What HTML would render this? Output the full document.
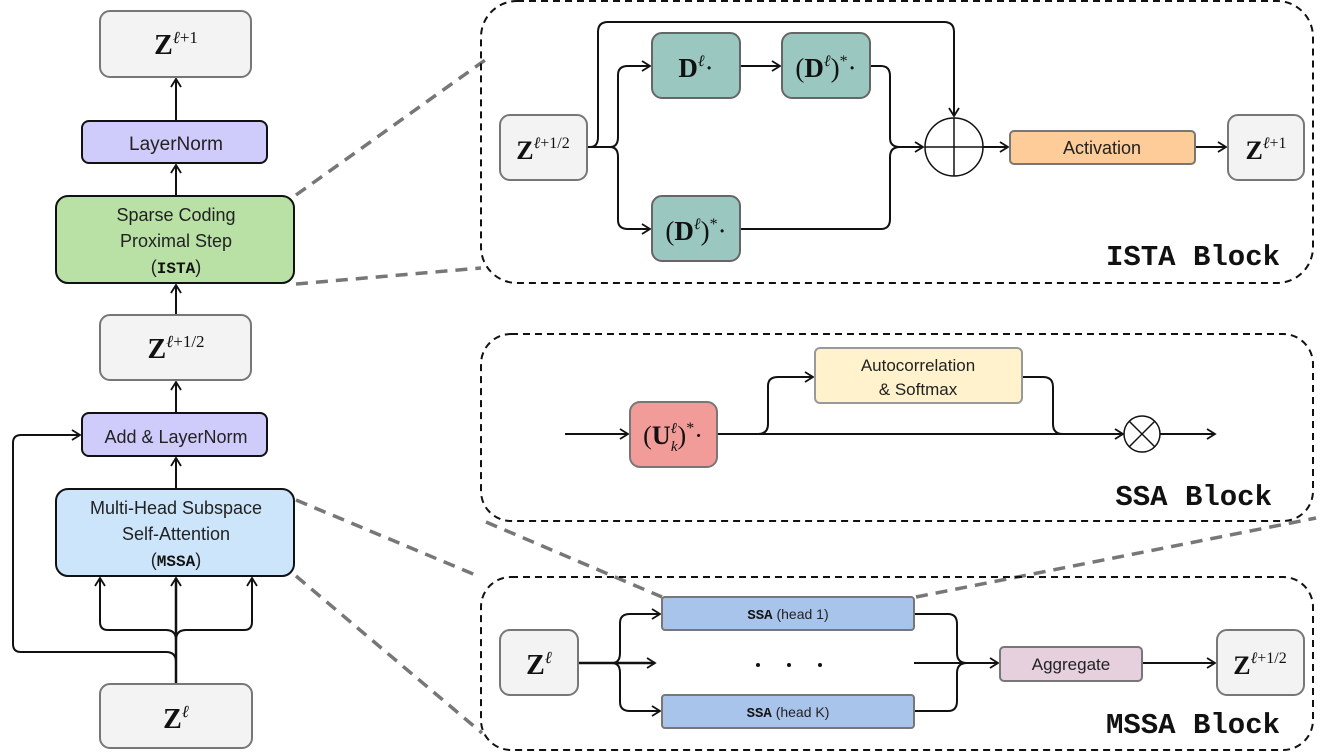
<!DOCTYPE html>
<html><head><meta charset="utf-8"><style>
html,body{margin:0;padding:0;background:#fff;}
svg{display:block;}
.s{font-family:"Liberation Sans",sans-serif;fill:#222;}
.m{font-family:"Liberation Serif",serif;fill:#111;}
.mono{font-family:"Liberation Mono",monospace;font-weight:bold;fill:#111;}
</style></head><body>
<svg width="1328" height="755" viewBox="0 0 1328 755" xmlns="http://www.w3.org/2000/svg">
<defs>
<marker id="a" markerWidth="12" markerHeight="12" refX="10" refY="6" orient="auto" markerUnits="userSpaceOnUse">
<path d="M2,1 L10,6 L2,11" fill="none" stroke="#111" stroke-width="1.8"/></marker>
</defs>
<g fill="none" stroke="#111" stroke-width="2">
<line x1="176" y1="121" x2="176" y2="79" marker-end="url(#a)"/>
<line x1="176" y1="196" x2="176" y2="165" marker-end="url(#a)"/>
<line x1="176" y1="315" x2="176" y2="285" marker-end="url(#a)"/>
<line x1="176" y1="413" x2="176" y2="382" marker-end="url(#a)"/>
<line x1="176" y1="489" x2="176" y2="458" marker-end="url(#a)"/>
<path d="M176,684 L176,578" stroke-width="2.5" marker-end="url(#a)"/>
<path d="M176,640 Q176,630 166,630 L108,630 Q100,630 100,622 L100,578" marker-end="url(#a)"/>
<path d="M176,640 Q176,630 186,630 L244,630 Q252,630 252,622 L252,578" marker-end="url(#a)"/>
<path d="M176,662 Q176,652 166,652 L21,652 Q13,652 13,644 L13,443 Q13,435 21,435 L80,435" marker-end="url(#a)"/>
<path d="M587,147 L590,147 Q598,147 598,137 L598,32 Q598,22 608,22 L944,22 Q954,22 954,32 L954,116" marker-end="url(#a)"/>
<path d="M587,147 L610,147 Q618,147 618,137 L618,75 Q618,66 628,66 L650,66" marker-end="url(#a)"/>
<path d="M610,147 Q618,147 618,157 L618,220 Q618,229 628,229 L650,229" marker-end="url(#a)"/>
<line x1="740" y1="66" x2="780" y2="66" marker-end="url(#a)"/>
<path d="M870,66 L881,66 Q890,66 890,76 L890,138 Q890,147 900,147 L923,147" marker-end="url(#a)"/>
<path d="M740,229 L881,229 Q890,229 890,219 L890,157 Q890,147 900,147"/>
<circle cx="954" cy="147" r="29" stroke-width="1.5"/>
<line x1="925" y1="147" x2="983" y2="147" stroke-width="1.5"/>
<line x1="954" y1="118" x2="954" y2="176" stroke-width="1.5"/>
<line x1="983" y1="147" x2="1008" y2="147" marker-end="url(#a)"/>
<line x1="1195" y1="147" x2="1226" y2="147" marker-end="url(#a)"/>
<line x1="565" y1="434" x2="628" y2="434" marker-end="url(#a)"/>
<path d="M717,434 L1123,434" marker-end="url(#a)"/>
<path d="M758,434 Q768,434 768,424 L768,386 Q768,377 778,377 L813,377" marker-end="url(#a)"/>
<path d="M1022,377 L1043,377 Q1053,377 1053,387 L1053,424 Q1053,434 1063,434"/>
<circle cx="1142" cy="434" r="18" stroke-width="1.5"/>
<line x1="1129" y1="421" x2="1155" y2="447" stroke-width="1.5"/>
<line x1="1155" y1="421" x2="1129" y2="447" stroke-width="1.5"/>
<line x1="1160" y1="434" x2="1215" y2="434" marker-end="url(#a)"/>
<path d="M578,663 L655,663" stroke-width="2.5" marker-end="url(#a)"/>
<path d="M612,663 Q620,663 620,653 L620,623 Q620,614 630,614 L660,614" marker-end="url(#a)"/>
<path d="M612,663 Q620,663 620,673 L620,702 Q620,711 630,711 L660,711" marker-end="url(#a)"/>
<path d="M914,614 L948,614 Q957,614 957,624 L957,653 Q957,663 967,663 L998,663" marker-end="url(#a)"/>
<path d="M914,711 L948,711 Q957,711 957,701 L957,673 Q957,663 967,663"/>
<line x1="914" y1="663" x2="967" y2="663"/>
<line x1="1142" y1="663" x2="1215" y2="663" marker-end="url(#a)"/>
</g>
<g stroke="#777" stroke-width="3.5" stroke-dasharray="12,8" fill="none">
<line x1="296" y1="195" x2="488" y2="58"/>
<line x1="296" y1="284" x2="481" y2="268"/>
<line x1="296" y1="500" x2="478" y2="576"/>
<line x1="296" y1="576" x2="482" y2="733"/>
<line x1="486" y1="522" x2="662" y2="597"/>
<line x1="916" y1="597" x2="1316" y2="518"/>
</g>
<g fill="none" stroke="#111" stroke-width="2" stroke-dasharray="7,5">
<rect x="481" y="1" width="832" height="282" rx="36"/>
<rect x="481" y="334" width="832" height="187" rx="30"/>
<rect x="481" y="577" width="832" height="173" rx="30"/>
</g>
<g stroke-width="2">
<rect x="100" y="11" width="151" height="66" rx="10" fill="#f3f3f3" stroke="#777"/>
<rect x="82" y="121" width="185" height="42" rx="7" fill="#cfccfb" stroke="#111"/>
<rect x="56" y="196" width="238" height="87" rx="12" fill="#b9e0a5" stroke="#111"/>
<rect x="100" y="315" width="151" height="65" rx="10" fill="#f3f3f3" stroke="#777"/>
<rect x="82" y="413" width="185" height="43" rx="7" fill="#cfccfb" stroke="#111"/>
<rect x="56" y="489" width="238" height="87" rx="12" fill="#cce5fb" stroke="#111"/>
<rect x="100" y="684" width="152" height="64" rx="10" fill="#f3f3f3" stroke="#777"/>
<rect x="500" y="115" width="87" height="65" rx="10" fill="#f3f3f3" stroke="#777"/>
<rect x="652" y="33" width="88" height="65" rx="10" fill="#9ac8c0" stroke="#666"/>
<rect x="782" y="33" width="88" height="65" rx="10" fill="#9ac8c0" stroke="#666"/>
<rect x="652" y="196" width="88" height="65" rx="10" fill="#9ac8c0" stroke="#666"/>
<rect x="1010" y="131" width="185" height="33" rx="4" fill="#fdcc99" stroke="#777"/>
<rect x="1228" y="115" width="76" height="65" rx="10" fill="#f3f3f3" stroke="#777"/>
<rect x="630" y="402" width="87" height="65" rx="10" fill="#f19c99" stroke="#777"/>
<rect x="815" y="348" width="207" height="55" rx="5" fill="#fff2cc" stroke="#999"/>
<rect x="500" y="630" width="78" height="65" rx="10" fill="#f3f3f3" stroke="#777"/>
<rect x="662" y="597" width="252" height="33" rx="3" fill="#a9c4eb" stroke="#777"/>
<rect x="662" y="695" width="252" height="33" rx="3" fill="#a9c4eb" stroke="#777"/>
<rect x="1000" y="647" width="142" height="34" rx="4" fill="#e6d0de" stroke="#777"/>
<rect x="1217" y="630" width="87" height="65" rx="10" fill="#f3f3f3" stroke="#777"/>
</g>
<text x="176" y="54" text-anchor="middle" class="m" font-size="28"><tspan font-weight="bold">Z</tspan><tspan font-size="17" dy="-11"><tspan font-style="italic">ℓ</tspan>+1</tspan></text>
<text x="176" y="150" text-anchor="middle" class="s" font-size="19">LayerNorm</text>
<text x="176" y="221" text-anchor="middle" class="s" font-size="18">Sparse Coding</text>
<text x="176" y="247" text-anchor="middle" class="s" font-size="18">Proximal Step</text>
<text x="176" y="273" text-anchor="middle" class="s" font-size="18">(<tspan class="mono" font-size="16">ISTA</tspan>)</text>
<text x="176" y="358" text-anchor="middle" class="m" font-size="28"><tspan font-weight="bold">Z</tspan><tspan font-size="17" dy="-11"><tspan font-style="italic">ℓ</tspan>+1/2</tspan></text>
<text x="176" y="443" text-anchor="middle" class="s" font-size="18">Add &amp; LayerNorm</text>
<text x="176" y="514" text-anchor="middle" class="s" font-size="18">Multi-Head Subspace</text>
<text x="176" y="540" text-anchor="middle" class="s" font-size="18">Self-Attention</text>
<text x="176" y="566" text-anchor="middle" class="s" font-size="18">(<tspan class="mono" font-size="16">MSSA</tspan>)</text>
<text x="176" y="728" text-anchor="middle" class="m" font-size="28"><tspan font-weight="bold">Z</tspan><tspan font-size="17" dy="-11" font-style="italic">ℓ</tspan></text>
<text x="543" y="159" text-anchor="middle" class="m" font-size="26"><tspan font-weight="bold">Z</tspan><tspan font-size="16" dy="-11"><tspan font-style="italic">ℓ</tspan>+1/2</tspan></text>
<text x="696" y="77" text-anchor="middle" class="m" font-size="27"><tspan font-weight="bold">D</tspan><tspan font-size="16" dy="-11" font-style="italic">ℓ</tspan><tspan dy="11">·</tspan></text>
<text x="826" y="77" text-anchor="middle" class="m" font-size="27">(<tspan font-weight="bold">D</tspan><tspan font-size="16" dy="-11" font-style="italic">ℓ</tspan><tspan dy="11">)</tspan><tspan font-size="16" dy="-11">*</tspan><tspan dy="11">·</tspan></text>
<text x="696" y="240" text-anchor="middle" class="m" font-size="27">(<tspan font-weight="bold">D</tspan><tspan font-size="16" dy="-11" font-style="italic">ℓ</tspan><tspan dy="11">)</tspan><tspan font-size="16" dy="-11">*</tspan><tspan dy="11">·</tspan></text>
<text x="1102" y="154" text-anchor="middle" class="s" font-size="18">Activation</text>
<text x="1266" y="159" text-anchor="middle" class="m" font-size="26"><tspan font-weight="bold">Z</tspan><tspan font-size="16" dy="-11"><tspan font-style="italic">ℓ</tspan>+1</tspan></text>
<text x="1280" y="265" text-anchor="end" class="mono" font-size="29">ISTA Block</text>
<text x="673" y="444" text-anchor="middle" class="m" font-size="26">(<tspan font-weight="bold">U</tspan><tspan font-size="15" dy="-11" font-style="italic">ℓ</tspan><tspan font-size="15" dx="-6" dy="18" font-style="italic">k</tspan><tspan dy="-7">)</tspan><tspan font-size="16" dy="-11">*</tspan><tspan dy="11">·</tspan></text>
<text x="918" y="371" text-anchor="middle" class="s" font-size="17">Autocorrelation</text>
<text x="918" y="395" text-anchor="middle" class="s" font-size="17">&amp; Softmax</text>
<text x="1272" y="505" text-anchor="end" class="mono" font-size="29">SSA Block</text>
<text x="539" y="674" text-anchor="middle" class="m" font-size="28"><tspan font-weight="bold">Z</tspan><tspan font-size="17" dy="-11" font-style="italic">ℓ</tspan></text>
<text x="788" y="619" text-anchor="middle" class="s" font-size="14"><tspan class="mono" font-size="14">SSA</tspan> (head 1)</text>
<text x="788" y="717" text-anchor="middle" class="s" font-size="14"><tspan class="mono" font-size="14">SSA</tspan> (head K)</text>
<g fill="#111"><circle cx="758" cy="665" r="2"/><circle cx="789" cy="665" r="2"/><circle cx="820" cy="665" r="2"/></g>
<text x="1071" y="670" text-anchor="middle" class="s" font-size="17">Aggregate</text>
<text x="1260" y="674" text-anchor="middle" class="m" font-size="26"><tspan font-weight="bold">Z</tspan><tspan font-size="16" dy="-11"><tspan font-style="italic">ℓ</tspan>+1/2</tspan></text>
<text x="1280" y="733" text-anchor="end" class="mono" font-size="29">MSSA Block</text>
</svg>
</body></html>
